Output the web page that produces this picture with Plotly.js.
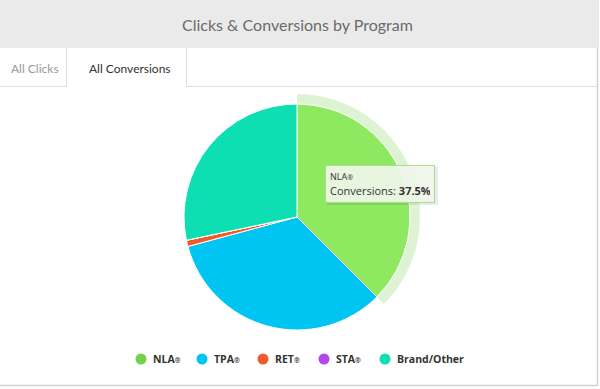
<!DOCTYPE html>
<html>
<head>
<meta charset="utf-8">
<script src="https://cdn.plot.ly/plotly-3.0.1.min.js"></script>
<style>
  html, body { margin: 0; padding: 0; background: #ffffff; }
  #chart { width: 600px; height: 389px; }
</style>
</head>
<body>
<div id="chart"></div>
<script>
// ---- data ----
var programs = ["NLA", "TPA", "RET", "STA", "Brand/Other"];
var registered = [true, true, true, true, false];
var conversionShare = [37.5, 33.3, 0.9, 0, 28.3];
var sliceColors = ["#8ee860", "#00c4f1", "#f25a29", "#b247f0", "#0edfb2"];
var legendColors = ["#74d14c", "#00c4f1", "#f25a29", "#b247f0", "#0edfb2"];
var tabLabels = ["All Clicks", "All Conversions"];
var chartTitle = "Clicks & Conversions by Program";
var hoveredIndex = 0;
var hoverMetric = "Conversions";

function labelOf(i, regSize) {
  return programs[i] + (registered[i] ? '<span style="font-size:' + regSize + 'px">®</span>' : '');
}
var pieLabels = programs.map(function (p, i) { return p + (registered[i] ? "®" : ""); });

// ---- layout helpers (pixel -> paper) ----
var W = 600, H = 389;
function px(x) { return x / W; }
function py(y) { return 1 - y / H; }

var cx = 297, cy = 217, r = 113, haloR = 123;

var haloColors = sliceColors.map(function (c, i) { return i === hoveredIndex ? "rgba(160,220,130,0.35)" : "rgba(0,0,0,0)"; });

var traces = [
  {
    type: "pie",
    values: conversionShare,
    labels: pieLabels,
    sort: false,
    direction: "clockwise",
    rotation: 0,
    hole: r / haloR,
    textinfo: "none",
    hoverinfo: "skip",
    showlegend: false,
    marker: { colors: haloColors, line: { width: 0 } },
    domain: { x: [px(cx - haloR), px(cx + haloR)], y: [py(cy + haloR), py(cy - haloR)] }
  },
  {
    type: "pie",
    values: conversionShare,
    labels: pieLabels,
    sort: false,
    direction: "clockwise",
    rotation: 0,
    textinfo: "none",
    hoverinfo: "label+percent",
    showlegend: false,
    marker: { colors: sliceColors, line: { color: "#ffffff", width: 1 } },
    domain: { x: [px(cx - r), px(cx + r)], y: [py(cy + r), py(cy - r)] }
  }
];

// custom legend (circle dots + bold labels)
var legX0 = 141, legStep = 61, legY = 359;
var legXs = programs.map(function (p, i) { return legX0 + i * legStep; });
traces.push({
  type: "scatter",
  mode: "markers",
  x: legXs,
  y: programs.map(function () { return legY; }),
  marker: { color: legendColors, size: 11, line: { width: 0 } },
  hoverinfo: "skip",
  showlegend: false,
  xaxis: "x", yaxis: "y"
});

var annotations = [
  { text: chartTitle, x: px(297), y: py(25), xref: "paper", yref: "paper", showarrow: false,
    xanchor: "center", yanchor: "middle", font: { family: "Lato, sans-serif", size: 16, color: "#6b6b6b" } },
  { text: tabLabels[0], x: px(35), y: py(69), xref: "paper", yref: "paper", showarrow: false,
    xanchor: "center", yanchor: "middle", font: { family: "Lato, sans-serif", size: 12, color: "#9a9a9a" } },
  { text: tabLabels[1], x: px(130), y: py(69), xref: "paper", yref: "paper", showarrow: false,
    xanchor: "center", yanchor: "middle", font: { family: "Lato, sans-serif", size: 12, color: "#333333" } },
  { text: '<span style="font-size:9px">' + labelOf(hoveredIndex, 7) + '</span><br>' + hoverMetric + ': <b>' + conversionShare[hoveredIndex].toFixed(1) + '%</b>',
    x: px(325), y: py(165), xref: "paper", yref: "paper", showarrow: false,
    xanchor: "left", yanchor: "top", align: "left", width: 100, height: 28, borderpad: 4,
    bgcolor: "rgba(240,248,234,0.93)", bordercolor: "#a9dc8c", borderwidth: 1,
    font: { family: "Open Sans, sans-serif", size: 11, color: "#333333" } }
];
programs.forEach(function (p, i) {
  annotations.push({ text: "<b>" + labelOf(i, 7) + "</b>", x: legXs[i] + 10, y: legY, xref: "x", yref: "y",
    showarrow: false, xanchor: "left", yanchor: "middle",
    font: { family: "Open Sans, sans-serif", size: 10.5, color: "#333333" } });
});

var shapes = [
  // header band
  { type: "rect", xref: "paper", yref: "paper", x0: 0, x1: px(599), y0: py(48), y1: py(0),
    fillcolor: "#eaeaea", line: { width: 0 }, layer: "below" },
  // tab underline
  { type: "line", xref: "paper", yref: "paper", x0: 0, x1: px(66), y0: py(86.5), y1: py(86.5), line: { color: "#dddddd", width: 1 } },
  { type: "line", xref: "paper", yref: "paper", x0: px(186), x1: px(597.5), y0: py(86.5), y1: py(86.5), line: { color: "#dddddd", width: 1 } },
  // active tab borders
  { type: "line", xref: "paper", yref: "paper", x0: px(66.5), x1: px(66.5), y0: py(48), y1: py(86.5), line: { color: "#dddddd", width: 1 } },
  { type: "line", xref: "paper", yref: "paper", x0: px(186.5), x1: px(186.5), y0: py(48), y1: py(86.5), line: { color: "#dddddd", width: 1 } },
  // card borders
  { type: "line", xref: "paper", yref: "paper", x0: px(597.5), x1: px(597.5), y0: py(48), y1: py(386), line: { color: "#d2d2d2", width: 1.5 } },
  { type: "line", xref: "paper", yref: "paper", x0: 0, x1: px(598), y0: py(385.5), y1: py(385.5), line: { color: "#d2d2d2", width: 1.5 } },
  // tooltip shadow
  { type: "rect", xref: "paper", yref: "paper", x0: px(327), x1: px(438), y0: py(205), y1: py(167),
    fillcolor: "rgba(0,0,0,0.08)", line: { width: 0 }, layer: "above" }
];

var layout = {
  width: W, height: H,
  margin: { l: 0, r: 0, t: 0, b: 0 },
  paper_bgcolor: "#ffffff",
  plot_bgcolor: "rgba(0,0,0,0)",
  showlegend: false,
  xaxis: { range: [0, W], domain: [0, 1], visible: false, fixedrange: true },
  yaxis: { range: [H, 0], domain: [0, 1], visible: false, fixedrange: true },
  annotations: annotations,
  shapes: shapes
};

Plotly.newPlot("chart", traces, layout, { displayModeBar: false, staticPlot: true });
</script>
</body>
</html>
